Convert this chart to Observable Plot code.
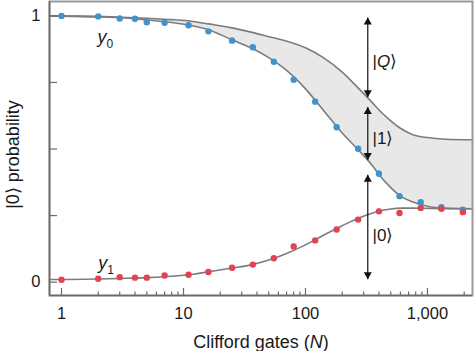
<!DOCTYPE html>
<html><head><meta charset="utf-8">
<script src="https://cdn.jsdelivr.net/npm/d3@7"></script>
<script src="https://cdn.jsdelivr.net/npm/@observablehq/plot@0.6"></script>
<style>
html,body{margin:0;padding:0;background:#fff;}
#chart svg{display:block;}
</style></head><body><div id="chart"></div>
<script>
const gateN = [1,2,3,4,5,7,11,16,25,37,55,80,120,180,270,400,590,880,1300,1950];
const y0Obs = [1.000,0.998,0.990,0.989,0.976,0.974,0.965,0.942,0.907,0.882,0.828,0.760,0.678,0.582,0.501,0.407,0.323,0.300,0.282,0.272];
const y0Err = [0,0,0,0,0,0,0,0,0.010,0.004,0.006,0.008,0.009,0.008,0.008,0.010,0.005,0.006,0.005,0.004];
const y1Obs = [0.009,0.013,0.019,0.017,0.017,0.025,0.028,0.038,0.054,0.066,0.090,0.134,0.157,0.198,0.235,0.266,0.260,0.279,0.276,0.263];
const y1Err = [0,0,0,0,0,0,0,0,0,0,0,0.008,0.005,0.004,0.005,0.008,0.008,0.006,0.006,0.007];

// Fitted curves (at these N)
const curveN   = [0.797,1,2,3,5,8,12,16,25,35,50,70,100,140,200,280,350,420,500,600,750,1000,1400,2339];
const upperFit = [1.000,1.000,0.998,0.995,0.991,0.986,0.979,0.970,0.955,0.940,0.922,0.905,0.880,0.843,0.789,0.722,0.676,0.637,0.606,0.578,0.555,0.543,0.537,0.535];
const y0Fit    = [1.000,0.999,0.996,0.993,0.985,0.975,0.962,0.948,0.910,0.882,0.843,0.795,0.726,0.646,0.560,0.490,0.440,0.392,0.355,0.323,0.302,0.285,0.278,0.276];
const y1Fit    = [0.010,0.010,0.012,0.014,0.017,0.022,0.030,0.039,0.053,0.064,0.083,0.108,0.140,0.176,0.212,0.243,0.259,0.269,0.275,0.278,0.278,0.277,0.276,0.276];

// Axes
const xDomain = [0.797, 2339];
const yDomain = [-0.05, 1.054];
const xMajor = [1,10,100,1000];
const xTickLabels = ["1","10","100","1,000"];
const xMinor = [2,3,4,5,6,7,8,9,20,30,40,50,60,70,80,90,200,300,400,500,600,700,800,900,2000];
const yTicks = [0,0.25,0.5,0.75,1];
const yLabeled = [0,1];
const yTickLabels = ["0","1"];

// Annotations
const arrowN = 324;
const arrowTop = [0.994,0.658,0.403];
const arrowBottom = [0.695,0.459,0.011];
const ketText = ["|Q⟩","|1⟩","|0⟩"];
const ketV = [0.828,0.539,0.175];
const ketN = 354;
const seriesText = ["y0","y1"];
const seriesN = [1.97,2.0];
const seriesV = [0.918,0.072];

const blue = "#3d95cf", red = "#e2434f", curveGray = "#7c7c7c";
const font = "'Liberation Sans', Arial, Helvetica, sans-serif";

const curveRows = curveN.map((n,i)=>({n, hi: upperFit[i], lo: y0Fit[i], r: y1Fit[i]}));
const obs0 = gateN.map((n,i)=>({n, v: y0Obs[i], e: y0Err[i]}));
const obs1 = gateN.map((n,i)=>({n, v: y1Obs[i], e: y1Err[i]}));
const arrows = arrowTop.map((t,i)=>({t, b: arrowBottom[i]}));

const xLo = xDomain[0];
const tickLenX = (px)=> xLo * Math.pow(10, px/122);
const yPerPx = (yDomain[1]-yDomain[0]) / 294;

const plot = Plot.plot({
  width: 474, height: 351,
  marginLeft: 49, marginRight: 2, marginTop: 1, marginBottom: 56,
  style: {fontFamily: font, fontSize: "16px", background: "#fff", color: "#1a1a1a"},
  x: {type: "log", domain: xDomain},
  y: {domain: yDomain},
  marks: [
    Plot.areaY(curveRows, {x: "n", y1: "lo", y2: "hi", fill: "#e8e8e8", curve: "monotone-x"}),
    Plot.line(curveRows, {x: "n", y: "hi", stroke: curveGray, strokeWidth: 1.6, curve: "monotone-x"}),
    Plot.line(curveRows, {x: "n", y: "lo", stroke: curveGray, strokeWidth: 1.6, curve: "monotone-x"}),
    Plot.line(curveRows, {x: "n", y: "r", stroke: curveGray, strokeWidth: 1.6, curve: "monotone-x"}),
    Plot.ruleX(obs0.filter(d=>d.e>0), {x: "n", y1: d=>d.v-d.e, y2: d=>d.v+d.e, stroke: blue, strokeWidth: 3}),
    Plot.dot(obs0, {x: "n", y: "v", r: 3.2, fill: blue}),
    Plot.ruleX(obs1.filter(d=>d.e>0), {x: "n", y1: d=>d.v-d.e, y2: d=>d.v+d.e, stroke: red, strokeWidth: 3}),
    Plot.dot(obs1, {x: "n", y: "v", r: 3.2, fill: red}),
    // double arrows
    Plot.link(arrows, {x1: ()=>arrowN, x2: ()=>arrowN, y1: "t", y2: "b", stroke: "#111", strokeWidth: 1.2}),
    Plot.dot(arrows, {x: ()=>arrowN, y: "t", symbol: "triangle", r: 3, fill: "#111", dy: 4.6}),
    Plot.dot(arrows, {x: ()=>arrowN, y: "b", symbol: "triangle", r: 3, fill: "#111", rotate: 180, dy: -4.6}),
    Plot.text(ketText, {x: ()=>ketN, y: (d,i)=>ketV[i], text: d=>d, textAnchor: "start", fontSize: 17}),
    Plot.text(seriesText, {x: (d,i)=>seriesN[i], y: (d,i)=>seriesV[i], text: d=>d, textAnchor: "start", fontSize: 18}),
    // frame and axes
    Plot.frame({stroke: "#999", strokeWidth: 2}),
    Plot.ruleY([yDomain[0]], {stroke: "#6a6a6a", strokeWidth: 1.6}),
    Plot.ruleX([xDomain[0]], {stroke: "#6a6a6a", strokeWidth: 1.6}),
    Plot.ruleX(xMajor, {x: d=>d, y1: yDomain[0], y2: yDomain[0] + 7*yPerPx, stroke: "#6a6a6a", strokeWidth: 1.2}),
    Plot.ruleX(xMinor, {x: d=>d, y1: yDomain[0], y2: yDomain[0] + 3.5*yPerPx, stroke: "#6a6a6a", strokeWidth: 1.2}),
    Plot.ruleY(yTicks, {y: d=>d, x1: xLo, x2: tickLenX(8), stroke: "#6a6a6a", strokeWidth: 1.2}),
    Plot.axisX({ticks: xMajor, tickSize: 0, tickPadding: 12, tickFormat: d=>xTickLabels[xMajor.indexOf(d)], label: null, fontSize: 16.5}),
    Plot.axisY({ticks: yLabeled, tickSize: 0, tickPadding: 9, tickFormat: d=>yTickLabels[yLabeled.indexOf(d)], label: null, fontSize: 16.5}),
    Plot.text(["Clifford gates (N)"], {frameAnchor: "bottom", textAnchor: "middle", lineAnchor: "middle", dy: 47, fontSize: 18}),
    Plot.text(["|0⟩ probability"], {frameAnchor: "left", textAnchor: "middle", lineAnchor: "middle", dx: -36, dy: 6, rotate: -90, fontSize: 18})
  ]
});

// rich text: italics and subscripts
d3.select(plot).selectAll("text").each(function(){
  const t = this.textContent;
  const s = d3.select(this);
  if (t === "|Q⟩") s.html('|<tspan font-style="italic">Q</tspan>⟩');
  else if (t === "y0" || t === "y1") s.html('<tspan font-style="italic">y</tspan><tspan dy="5" font-size="12">' + t[1] + '</tspan>');
  else if (t === "Clifford gates (N)") s.html('Clifford gates (<tspan font-style="italic">N</tspan>)');
});
document.getElementById("chart").append(plot);
</script>
</body></html>
